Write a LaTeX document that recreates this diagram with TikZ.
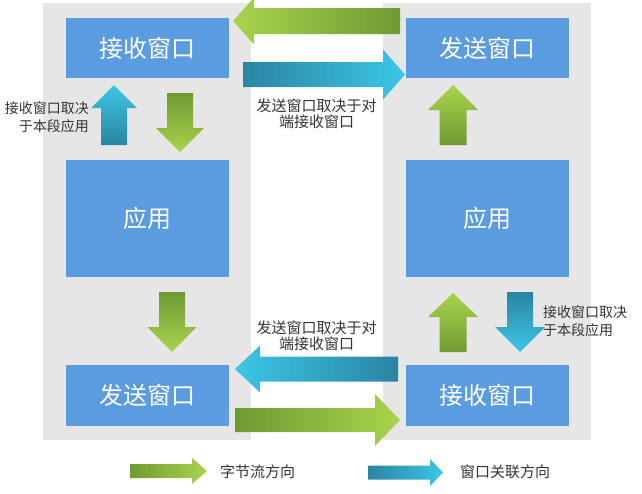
\documentclass[tikz,border=0pt]{standalone}
\usepackage{fontspec}
\setmainfont{Noto Sans CJK SC}
\usetikzlibrary{calc}
\definecolor{boxblue}{HTML}{5B9BE0}
\definecolor{panelgray}{HTML}{E6E6E6}
\definecolor{flowdark}{HTML}{6F9A33}
\definecolor{flowlight}{HTML}{A9D44C}
\definecolor{linkdark}{HTML}{2A85A2}
\definecolor{linklight}{HTML}{3DC6E6}
\definecolor{notegray}{HTML}{333333}
% block arrow: style, tail, tip, body half width, head half width, head length
\newcommand{\flowarrow}[6]{%
  \path (#2) coordinate (t) (#3) coordinate (p) ($(p)!#6pt!(t)$) coordinate (h);
  \path[#1] ($(t)!#4pt!90:(p)$) -- ($(h)!#4pt!90:(p)$) -- ($(h)!#5pt!90:(p)$) -- (p)
    -- ($(h)!#5pt!-90:(p)$) -- ($(h)!#4pt!-90:(p)$) -- ($(t)!#4pt!-90:(p)$) -- cycle;
}
\tikzset{
  box/.style={fill=boxblue, text=white, minimum width=163pt, inner sep=0pt, font=\fontsize{24}{28}\selectfont},
  note/.style={text=notegray, inner sep=0pt, font=\fontsize{14}{18}\selectfont},
  flowR/.style={left color=flowdark, right color=flowlight},
  flowL/.style={left color=flowlight, right color=flowdark},
  flowU/.style={top color=flowlight, bottom color=flowdark},
  flowD/.style={top color=flowdark, bottom color=flowlight},
  linkR/.style={left color=linkdark, right color=linklight},
  linkL/.style={left color=linklight, right color=linkdark},
  linkU/.style={top color=linklight, bottom color=linkdark},
  linkD/.style={top color=linkdark, bottom color=linklight}
}
\begin{document}
\begin{tikzpicture}[x=1pt, y=-1pt]
	\useasboundingbox (0,0) rectangle (642,493);
	\fill[panelgray] (43,3) rectangle (251,440);
	\fill[panelgray] (383,3) rectangle (591,440);
	% windows and applications
	\node[box, minimum height=60pt] (recvL) at (147.5,48) {接收窗口};
	\node[box, minimum height=117pt] (appL) at (147.5,218.5) {应用};
	\node[box, minimum height=61pt] (sendL) at (147.5,395.5) {发送窗口};
	\node[box, minimum height=60pt] (sendR) at (487,48) {发送窗口};
	\node[box, minimum height=117pt] (appR) at (487,218.5) {应用};
	\node[box, minimum height=61pt] (recvR) at (487,395.5) {接收窗口};
	% arrows
	\flowarrow{flowL}{400,21}{233,21}{13}{23.5}{21}
	\flowarrow{linkR}{243,74.5}{405,74.5}{12.5}{25}{22}
	\flowarrow{linkU}{114,145}{114,85}{13}{23}{23}
	\flowarrow{flowD}{180,93}{180,152}{13}{24}{24}
	\flowarrow{flowD}{172,292}{172,352}{13}{24.5}{25}
	\flowarrow{linkL}{398,369}{235,369}{12.5}{23.5}{25}
	\flowarrow{flowR}{235,420}{400,420}{12}{26}{25}
	\flowarrow{flowU}{453,145}{453,85}{13.5}{25}{25}
	\flowarrow{flowU}{453,352}{453,293}{13.5}{25}{24}
	\flowarrow{linkD}{520,292}{520,352}{13}{25}{25}
	% notes
	\node[note, anchor=east, align=right] (noteL) at (89,117.5) {接收窗口取决\\于本段应用};
	\node[note, anchor=west, align=left] (noteR) at (543,321.5) {接收窗口取决\\于本段应用};
	\node[note, align=center, font=\fontsize{15}{16}\selectfont] (noteTop) at (316.5,113.5) {发送窗口取决于对\\端接收窗口};
	\node[note, align=center, font=\fontsize{15}{16}\selectfont] (noteBot) at (316.5,335.5) {发送窗口取决于对\\端接收窗口};
	% legend
	\flowarrow{flowR}{130,471}{207,471}{7}{13}{15}
	\flowarrow{linkR}{368,472.5}{443,472.5}{7}{13.5}{13}
	\node[note, anchor=west, font=\fontsize{15}{18}\selectfont] (keyFlow) at (220,472) {字节流方向};
	\node[note, anchor=west, font=\fontsize{15}{18}\selectfont] (keyLink) at (460,472) {窗口关联方向};
\end{tikzpicture}
\end{document}
